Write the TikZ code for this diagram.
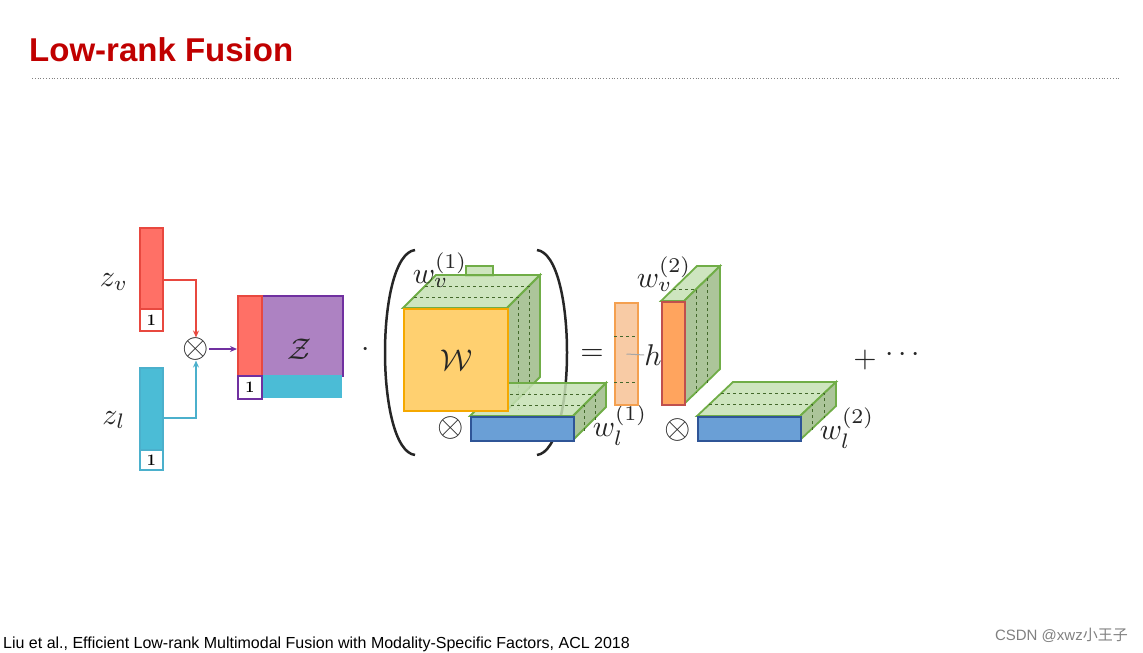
\documentclass[tikz,border=0pt]{standalone}
\usepackage{fontspec}
\usepackage{amsmath}
\usepackage{graphicx}
\newfontfamily\lsans{Liberation Sans}
\usetikzlibrary{arrows.meta}
\newcommand\mth[1]{\scalebox{3}{$#1$}}
\newcommand\otm{\scalebox{3.4}{$\otimes$}}
\definecolor{zred}{HTML}{FF7066}\definecolor{zredd}{HTML}{E8483F}
\definecolor{zblue}{HTML}{4BBCD6}\definecolor{zblued}{HTML}{4BB0CC}
\definecolor{zpurp}{HTML}{AD82C2}\definecolor{zpurpd}{HTML}{7030A0}
\definecolor{wy}{HTML}{FFD070}\definecolor{wyd}{HTML}{F5A800}
\definecolor{gtop}{HTML}{C5E0B4}\definecolor{gside}{HTML}{9DBB88}\definecolor{gd}{HTML}{70AD47}
\definecolor{bb}{HTML}{6A9FD6}\definecolor{bbd}{HTML}{2F5597}
\definecolor{oo}{HTML}{FFA45E}\definecolor{ood}{HTML}{C0504D}
\definecolor{lo}{HTML}{F8CBA5}\definecolor{lod}{HTML}{F4A050}
\definecolor{ttl}{HTML}{C00000}
\tikzset{
 big/.style={inner sep=0pt, text=black!85},
 one/.style={draw, fill=white, line width=2pt, font=\bfseries\fontsize{16}{17}\selectfont, inner sep=0pt},
 gface/.style={fill=gtop, draw=gd, line width=1.8pt, fill opacity=0.85},
 sface/.style={fill=gside, draw=gd, line width=1.8pt, fill opacity=0.85},
 dsh/.style={dashed, draw=gd!60!black, line width=1pt},
 conn/.style={line width=1.5pt, -{Stealth[length=7pt,width=6pt]}},
}
\begin{document}
\begin{tikzpicture}[x=1pt,y=-1pt]
\useasboundingbox (0,0) rectangle (1143,653);
% title
\node[anchor=west, font=\lsans\bfseries\fontsize{33}{38}\selectfont, text=ttl, inner sep=0] (title) at (29,50) {Low-rank Fusion};
\draw[gray, dotted, line width=0.8pt] (32,78) -- (1120,78);
% z_v and z_l
\node[draw=zredd, fill=zred, line width=2pt, minimum width=23pt, minimum height=81pt, inner sep=0, anchor=north west] (zv) at (139,227) {};
\node[one, draw=zredd, minimum width=23pt, minimum height=22pt, anchor=north west] (zv1) at (139,308) {1};
\node[draw=zblued, fill=zblue, line width=2pt, minimum width=23pt, minimum height=82pt, inner sep=0, anchor=north west] (zl) at (139,367) {};
\node[one, draw=zblued, minimum width=23pt, minimum height=20pt, anchor=north west] (zl1) at (139,449) {1};
\node[big] (zvl) at (114,282) {\mth{z_v}};
\node[big] (zll) at (114,420) {\mth{z_l}};
\node[big] (ot1) at (196,349) {\otm};
\coordinate (a1) at (196,280); \coordinate (a2) at (196,418);
\draw[conn, draw=zredd] (zv.east |- a1) -- (a1) -- (ot1.north);
\draw[conn, draw=zblued] (zl.east |- a2) -- (a2) -- (ot1.south);
% Z
\node[fill=zpurp, draw=zpurpd, line width=2pt, minimum width=81pt, minimum height=80pt, inner sep=0, anchor=north west] (zp) at (261,295) {};
\node[fill=zblue, minimum width=81pt, minimum height=23pt, inner sep=0, anchor=north west] (zb) at (261,375) {};
\node[draw=zredd, fill=zred, line width=2pt, minimum width=24pt, minimum height=80pt, inner sep=0, anchor=north west] (zr) at (237,295) {};
\node[one, draw=zpurpd, minimum width=24pt, minimum height=23pt, anchor=north west] (z1) at (237,375) {1};
\draw[conn, draw=zpurpd] (ot1.east) -- (zr.west |- ot1);
\node[big] (Zl) at (300,349) {\mth{\mathcal{Z}}};
\node[big] (dot) at (366,350) {\mth{\cdot}};
% parentheses
\draw[line width=2.5pt, black!85] (415,250) .. controls (375,255) and (375,450) .. (415,455);
\draw[line width=2.5pt, black!85] (537,250) .. controls (577,255) and (577,450) .. (537,455);
% W cube
\node[gface, minimum width=27pt, minimum height=10pt, inner sep=0, anchor=north west] (tab) at (465,265) {};
\draw[gface] (403,308) -- (436,275) -- (540,275) -- (507,308) -- cycle;
\draw[sface] (507,308) -- (540,275) -- (540,377) -- (507,410) -- cycle;
\draw[dsh] (414,297) -- (518,297) -- (518,410);
\draw[dsh] (425,286) -- (529,286) -- (529,397);
% bottom bar of W
\draw[gface] (470,416) -- (503,383) -- (606,383) -- (573,416) -- cycle;
\draw[sface] (573,416) -- (606,383) -- (606,407) -- (573,440) -- cycle;
\draw[dsh] (481,405) -- (584,405) -- (584,433);
\draw[dsh] (492,394) -- (595,394) -- (595,422);
\node[fill=bb, draw=bbd, line width=2pt, minimum width=103pt, minimum height=24pt, inner sep=0, anchor=north west] (wl1) at (470,416) {};
\node[fill=wy, draw=wyd, line width=2.2pt, minimum width=104pt, minimum height=102pt, inner sep=0, anchor=north west] (W) at (403,308) {};
\node[big] at (W.center) {\mth{\mathcal{W}}};
\node[big] (wv1l) at (440,270) {\mth{w_v^{(1)}}};
\node[big] (ot2) at (451,428) {\otm};
\node[big] (wl1l) at (620,425) {\mth{w_l^{(1)}}};
\node[big] (eq) at (592,355) {\mth{=}};
% h
\node[fill=lo, draw=lod, line width=2pt, minimum width=23pt, minimum height=102pt, inner sep=0, anchor=north west] (h) at (614,302) {};
\draw[dsh] (614,336) -- (637,336); \draw[dsh] (614,382) -- (637,382);
\node[big] (hl) at (653,355) {\mth{h}};
\draw[gray!70, line width=1pt] (h.center) -- (hl.west);
% w_v^(2)
\draw[gface] (661,301) -- (697,266) -- (720,266) -- (684,301) -- cycle;
\draw[sface] (684,301) -- (720,266) -- (720,369) -- (684,404) -- cycle;
\draw[dsh] (673,289) -- (696,289) -- (696,393);
\draw[dsh] (707,278) -- (707,383);
\node[big] (wv2l) at (664,274) {\mth{w_v^{(2)}}};
\node[fill=oo, draw=ood, line width=2.2pt, minimum width=23pt, minimum height=103pt, inner sep=0, anchor=north west] (wv2) at (661,301) {};
\node[big] (ot3) at (678,430) {\otm};
% w_l^(2)
\draw[gface] (697,416) -- (733,382) -- (836,382) -- (800,416) -- cycle;
\draw[sface] (800,416) -- (836,382) -- (836,406) -- (800,440) -- cycle;
\draw[dsh] (709,404) -- (812,404) -- (812,430);
\draw[dsh] (721,393) -- (824,393) -- (824,418);
\node[fill=bb, draw=bbd, line width=2pt, minimum width=103pt, minimum height=24pt, inner sep=0, anchor=north west] (wl2) at (697,416) {};
\node[big] (wl2l) at (847,428) {\mth{w_l^{(2)}}};
\node[big] (plus) at (865,360) {\mth{+}};
\node[big] (dots) at (905,355) {\mth{\cdots}};
% footer
\node[anchor=west, font=\lsans\fontsize{16}{18}\selectfont, inner sep=0] (foot) at (3,644) {Liu et al., Efficient Low-rank Multimodal Fusion with Modality-Specific Factors, ACL 2018};
\node[anchor=east, font=\lsans\fontsize{15}{17}\selectfont, text=gray, inner sep=0] (csdn) at (1128,635) {CSDN @xwz\fontspec{Noto Sans CJK SC}小王子};
\end{tikzpicture}
\end{document}
